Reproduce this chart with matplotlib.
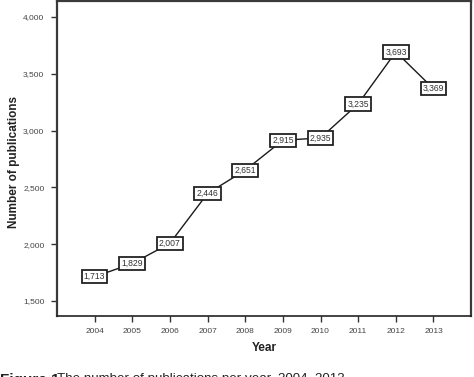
import matplotlib
matplotlib.use('Agg')
import matplotlib.pyplot as plt

plt.rcParams['font.family'] = ['Liberation Sans', 'DejaVu Sans']

# данные: число публикаций по годам
years = ['2004', '2005', '2006', '2007', '2008', '2009', '2010', '2011', '2012', '2013']
publications = [1713, 1829, 2007, 2446, 2651, 2915, 2935, 3235, 3693, 3369]
y_ticks = [1500, 2000, 2500, 3000, 3500, 4000]

fig = plt.figure(figsize=(4.74, 3.77), dpi=100)
ax = fig.add_axes([0.120, 0.162, 0.874, 0.835])

xs = list(range(1, len(years) + 1))
ax.plot(xs, publications, color='#1a1a1a', linewidth=1.0, zorder=2)

# подписи значений в рамках вместо маркеров
for x, v in zip(xs, publications):
    ax.text(x, v, f'{v:,}', ha='center', va='center', fontsize=6.2, color='#333333',
            bbox=dict(boxstyle='square,pad=0.25', facecolor='white',
                      edgecolor='#222222', linewidth=1.3), zorder=3)

ax.set_xlim(0, 11)
ax.set_ylim(1368, 4140)
ax.set_xticks(xs)
ax.set_xticklabels(years)
ax.set_yticks(y_ticks)
ax.set_yticklabels([f'{t:,}' for t in y_ticks])

ax.tick_params(axis='both', direction='out', length=4, width=1.0, color='#333333',
               labelsize=6.0, labelcolor='#444444', pad=5)

for side in ['left', 'top', 'right']:
    ax.spines[side].set_color('#3a3a3a')
    ax.spines[side].set_linewidth(1.6)
ax.spines['bottom'].set_color('#222222')
ax.spines['bottom'].set_linewidth(1.2)

ax.set_xlabel('Year', fontsize=8.5, fontweight='bold', color='#222222', labelpad=5)
ax.set_ylabel('Number of publications', fontsize=8.5, fontweight='bold',
              color='#222222')
ax.yaxis.set_label_coords(-0.088, 0.49)

# подпись рисунка, обрезанная снизу как в оригинале
fig.text(0.0, 1 - 373 / 377, 'Figure 1', fontsize=11, fontweight='bold',
         color='#222222', va='top', ha='left')
fig.text(57 / 474, 1 - 373 / 377, 'The number of publications per year, 2004\u20132013.',
         fontsize=9.6, color='#222222', va='top', ha='left')

fig.savefig('out.png', dpi=100)
